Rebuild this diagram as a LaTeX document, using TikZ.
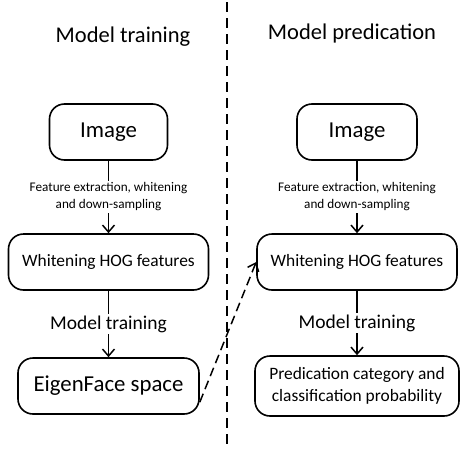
\documentclass[tikz,border=0pt]{standalone}
\usepackage{fontspec}
\setmainfont{Carlito}
\usetikzlibrary{arrows.meta}
\tikzstyle{title} = [font=\fontsize{22.5}{27}\selectfont]
\tikzstyle{startstop} = [rectangle, rounded corners=15pt, minimum height=56pt, text centered, draw=black, line width=1.6pt, font=\fontsize{22.8}{27}\selectfont]
\tikzstyle{process} = [rectangle, rounded corners=15pt, minimum height=56pt, text centered, align=center, draw=black, line width=1.6pt, font=\fontsize{17.4}{22}\selectfont]
\tikzstyle{lbl} = [fill=white, inner sep=1.5pt, align=center]
\tikzstyle{arrow} = [line width=1.5pt, -{Straight Barb[length=7pt,width=12pt]}]
\tikzstyle{divider} = [line width=1.8pt, dash pattern=on 10pt off 6pt]

\begin{document}
\begin{tikzpicture}[x=1pt, y=1pt]
\useasboundingbox (0,0) rectangle (474,-453);
  % Titles and divider
\node (ttrain) [title] at (123,-37) {Model training};
\node (tpred) [title] at (352,-33) {Model predication};
\coordinate (dtop) at (227,-2);
\coordinate (dbot) at (227,-448);
\draw [divider] (dtop) -- (dbot);

% Training column
\node (img1) [startstop, minimum width=118pt] at (108.5,-132) {Image};
\node (hog1) [process, minimum width=200pt, below of=img1, node distance=130pt] {Whitening HOG features};
\node (eigen) [startstop, minimum width=181pt, below of=hog1, node distance=124pt] {EigenFace space};

% Predication column
\node (img2) [startstop, minimum width=120pt] at (357,-132) {Image};
\node (hog2) [process, minimum width=200pt, below of=img2, node distance=130pt] {Whitening HOG features};
\node (pred) [process, minimum width=204pt, minimum height=60pt, below of=hog2, node distance=124pt] {Predication category and\\classification probability};

% Draw the arrows
\draw [arrow] (img1) -- node[lbl, font=\fontsize{13.2}{17}\selectfont] {Feature extraction, whitening\\and down-sampling} (hog1);
\draw [arrow] (hog1) -- node[lbl, font=\fontsize{19.5}{23}\selectfont] {Model training} (eigen);
\draw [arrow] (img2) -- node[lbl, font=\fontsize{13.2}{17}\selectfont] {Feature extraction, whitening\\and down-sampling} (hog2);
\draw [arrow] (hog2) -- node[lbl, font=\fontsize{19.5}{23}\selectfont] {Model training} (pred);
\draw [arrow, dash pattern=on 9pt off 5pt] (eigen.-10) -- (hog2.west);

\end{tikzpicture}
\end{document}
